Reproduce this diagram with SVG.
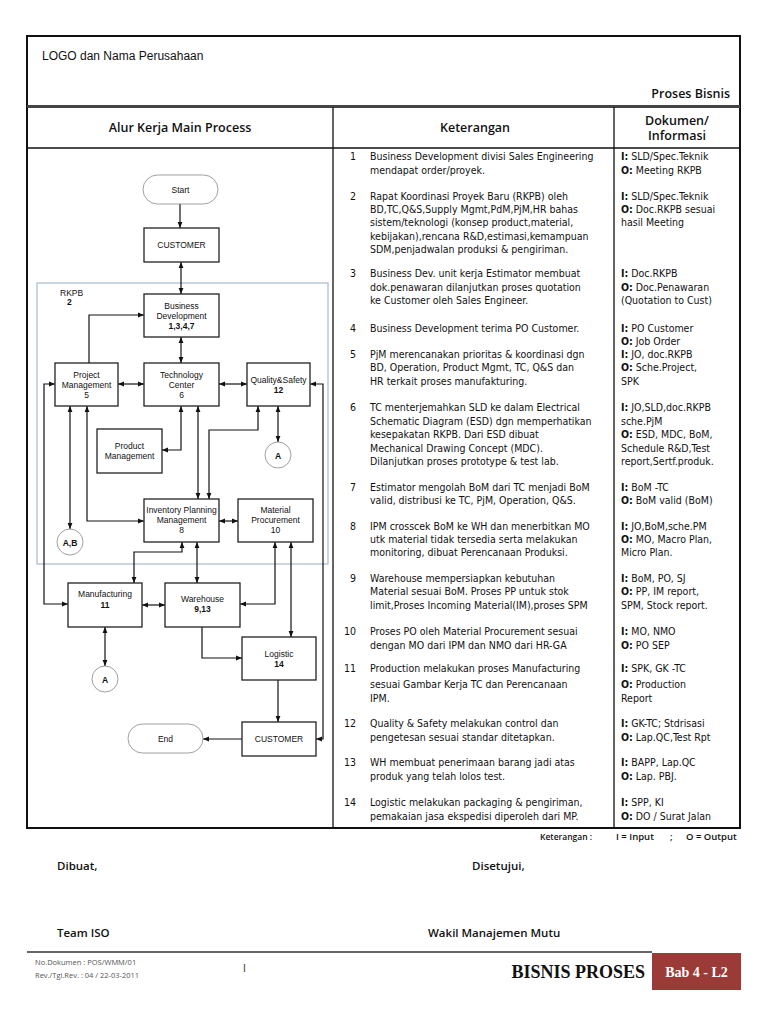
<svg xmlns="http://www.w3.org/2000/svg" width="768" height="1024" viewBox="0 0 768 1024">
<style>
.bx{fill:#fff;stroke:#222;stroke-width:1.3}
.term{fill:#fff;stroke:#888;stroke-width:0.8}
.circ{fill:#fff;stroke:#888;stroke-width:0.8}
.ft{font-family:"Liberation Sans",Arial,sans-serif;font-size:8.5px;fill:#111;text-anchor:middle}
.fb{font-weight:bold}
.cn{fill:none;stroke:#111;stroke-width:1.2}
.kt{font-family:"DejaVu Sans Condensed","DejaVu Sans",sans-serif;font-size:10.5px;fill:#111}
.kn{text-anchor:end}
.dk{font-family:"DejaVu Sans Condensed","DejaVu Sans",sans-serif;font-size:10.5px;fill:#111}
.hd{font-family:"Open Sans",sans-serif;font-weight:600;font-size:12.5px;fill:#111;text-anchor:middle}
.sg{font-family:"Open Sans",sans-serif;font-weight:600;font-size:11.5px;fill:#111}
.tbl{stroke:#111;fill:none}
</style>
<defs>
<marker id="ah" viewBox="0 0 10 10" refX="10" refY="5" markerWidth="6" markerHeight="6" markerUnits="userSpaceOnUse" orient="auto-start-reverse">
<path d="M0,1 L10,5 L0,9 z" fill="#111"/>
</marker>
</defs>
<rect width="768" height="1024" fill="#fff"/>

<!-- table frame -->
<g id="table">
<rect x="27" y="36" width="713" height="792" class="tbl" stroke-width="2"/>
<line x1="27" y1="106.5" x2="740" y2="106.5" stroke="#444" stroke-width="3"/>
<line x1="27" y1="148" x2="740" y2="148" stroke="#111" stroke-width="1.3"/>
<line x1="333" y1="107" x2="333" y2="828" stroke="#111" stroke-width="1.3"/>
<line x1="614" y1="107" x2="614" y2="828" stroke="#111" stroke-width="1.3"/>
<text x="42" y="60" font-family="Liberation Sans,Arial,sans-serif" font-size="12" fill="#111">LOGO dan Nama Perusahaan</text>
<text x="730" y="98" class="hd" style="text-anchor:end">Proses Bisnis</text>
<text x="180" y="132" class="hd">Alur Kerja Main Process</text>
<text x="475" y="132" class="hd">Keterangan</text>
<text x="677" y="125" class="hd">Dokumen/</text>
<text x="677" y="140" class="hd">Informasi</text>
</g>

<!-- RKPB boundary -->
<g id="rkpb">
<rect x="37" y="283" width="291" height="281" fill="none" stroke="#a9b9cc" stroke-width="1.2"/>
<text x="60" y="296" class="ft" style="text-anchor:start">RKPB</text>
<text x="67" y="305" class="ft fb" style="text-anchor:start">2</text>
</g>

<!-- connectors -->
<g id="connectors" class="cn">
<polyline points="180,204 180,228" marker-end="url(#ah)"/>
<polyline points="181,262 181,294" marker-start="url(#ah)" marker-end="url(#ah)"/>
<polyline points="89,363 89,315 144,315" marker-end="url(#ah)"/>
<polyline points="181,337 181,363" marker-start="url(#ah)" marker-end="url(#ah)"/>
<polyline points="118,384 144,384" marker-start="url(#ah)" marker-end="url(#ah)"/>
<polyline points="219,384 247,384" marker-start="url(#ah)" marker-end="url(#ah)"/>
<polyline points="55,384 44,384 44,604 68,604" marker-start="url(#ah)" marker-end="url(#ah)"/>
<polyline points="310,384 323,384 323,739 316,739" marker-start="url(#ah)" marker-end="url(#ah)"/>
<polyline points="70,406 70,529" marker-start="url(#ah)" marker-end="url(#ah)"/>
<polyline points="87,406 87,521 144,521" marker-start="url(#ah)" marker-end="url(#ah)"/>
<polyline points="181,406 181,450 162,450" marker-start="url(#ah)" marker-end="url(#ah)"/>
<polyline points="198,406 198,499" marker-start="url(#ah)" marker-end="url(#ah)"/>
<polyline points="258,406 258,430 209,430 209,499" marker-start="url(#ah)" marker-end="url(#ah)"/>
<polyline points="278,406 278,442" marker-start="url(#ah)" marker-end="url(#ah)"/>
<polyline points="219,521 238,521" marker-start="url(#ah)" marker-end="url(#ah)"/>
<polyline points="182,542 182,552 134,552 134,583" marker-start="url(#ah)" marker-end="url(#ah)"/>
<polyline points="197,542 197,583" marker-start="url(#ah)" marker-end="url(#ah)"/>
<polyline points="142,605 165,605" marker-start="url(#ah)" marker-end="url(#ah)"/>
<polyline points="275,542 275,604 240,604" marker-start="url(#ah)" marker-end="url(#ah)"/>
<polyline points="291,542 291,637" marker-start="url(#ah)" marker-end="url(#ah)"/>
<polyline points="202,627 202,658 242,658" marker-end="url(#ah)"/>
<polyline points="105,627 105,666" marker-start="url(#ah)" marker-end="url(#ah)"/>
<polyline points="278,680 278,722" marker-end="url(#ah)"/>
<polyline points="242,739 203,739" marker-end="url(#ah)"/>
</g>

<!-- nodes -->
<g id="start"><rect x="143" y="175" width="75" height="29" rx="14.5" class="term"/><text x="180.5" y="193" class="ft">Start</text></g>
<g id="customer1"><rect x="144" y="228" width="75" height="34" class="bx"/><text x="181.5" y="248" class="ft">CUSTOMER</text></g>
<g id="bd"><rect x="144" y="294" width="75" height="43" class="bx"/><text x="181.5" y="309" class="ft">Business</text><text x="181.5" y="319" class="ft">Development</text><text x="181.5" y="329" class="ft fb">1,3,4,7</text></g>
<g id="pm"><rect x="55" y="363" width="63" height="43" class="bx"/><text x="86.5" y="378" class="ft">Project</text><text x="86.5" y="388" class="ft">Management</text><text x="86.5" y="398" class="ft">5</text></g>
<g id="tc"><rect x="144" y="363" width="75" height="43" class="bx"/><text x="181.5" y="378" class="ft">Technology</text><text x="181.5" y="388" class="ft">Center</text><text x="181.5" y="398" class="ft">6</text></g>
<g id="qs"><rect x="247" y="363" width="63" height="43" class="bx"/><text x="278.5" y="383" class="ft">Quality&amp;Safety</text><text x="278.5" y="393" class="ft fb">12</text></g>
<g id="prodm"><rect x="97" y="429" width="65" height="44" class="bx"/><text x="129.5" y="449" class="ft">Product</text><text x="129.5" y="459" class="ft">Management</text></g>
<g id="circA1"><circle cx="278" cy="455" r="13" class="circ"/><text x="278" y="458.5" class="ft fb">A</text></g>
<g id="ipm"><rect x="144" y="499" width="75" height="43" class="bx"/><text x="181.5" y="513" class="ft">Inventory Planning</text><text x="181.5" y="523" class="ft">Management</text><text x="181.5" y="533" class="ft">8</text></g>
<g id="mp"><rect x="238" y="499" width="75" height="43" class="bx"/><text x="275.5" y="513" class="ft">Material</text><text x="275.5" y="523" class="ft">Procurement</text><text x="275.5" y="533" class="ft">10</text></g>
<g id="circAB"><circle cx="70" cy="542" r="13" class="circ"/><text x="70" y="545.5" class="ft fb">A,B</text></g>
<g id="mfg"><rect x="68" y="583" width="74" height="44" class="bx"/><text x="105" y="597" class="ft">Manufacturing</text><text x="105" y="608" class="ft fb">11</text></g>
<g id="wh"><rect x="165" y="583" width="75" height="44" class="bx"/><text x="202.5" y="602" class="ft">Warehouse</text><text x="202.5" y="612" class="ft fb">9,13</text></g>
<g id="log"><rect x="242" y="637" width="74" height="43" class="bx"/><text x="279" y="657" class="ft">Logistic</text><text x="279" y="667" class="ft fb">14</text></g>
<g id="circA2"><circle cx="105" cy="679" r="13" class="circ"/><text x="105" y="682.5" class="ft fb">A</text></g>
<g id="end"><rect x="128" y="724" width="75" height="29" rx="14.5" class="term"/><text x="165.5" y="742" class="ft">End</text></g>
<g id="customer2"><rect x="242" y="722" width="74" height="34" class="bx"/><text x="279" y="742" class="ft">CUSTOMER</text></g>

<!-- Keterangan -->
<g id="keterangan" class="kt">
<text x="356" y="160" class="kn">1</text>
<text x="370" y="160">Business Development divisi Sales Engineering</text>
<text x="370" y="174">mendapat order/proyek.</text>
<text x="356" y="200" class="kn">2</text>
<text x="370" y="200">Rapat Koordinasi Proyek Baru (RKPB) oleh</text>
<text x="370" y="213">BD,TC,Q&amp;S,Supply Mgmt,PdM,PjM,HR bahas</text>
<text x="370" y="226">sistem/teknologi (konsep product,material,</text>
<text x="370" y="240">kebijakan),rencana R&amp;D,estimasi,kemampuan</text>
<text x="370" y="253">SDM,penjadwalan produksi &amp; pengiriman.</text>
<text x="356" y="277" class="kn">3</text>
<text x="370" y="277">Business Dev. unit kerja Estimator membuat</text>
<text x="370" y="291">dok.penawaran dilanjutkan proses quotation</text>
<text x="370" y="304">ke Customer oleh Sales Engineer.</text>
<text x="356" y="332" class="kn">4</text>
<text x="370" y="332">Business Development terima PO Customer.</text>
<text x="356" y="358" class="kn">5</text>
<text x="370" y="358">PjM merencanakan prioritas &amp; koordinasi dgn</text>
<text x="370" y="371">BD, Operation, Product Mgmt, TC, Q&amp;S dan</text>
<text x="370" y="385">HR terkait proses manufakturing.</text>
<text x="356" y="411" class="kn">6</text>
<text x="370" y="411">TC menterjemahkan SLD ke dalam Electrical</text>
<text x="370" y="425">Schematic Diagram (ESD) dgn memperhatikan</text>
<text x="370" y="438">kesepakatan RKPB. Dari ESD dibuat</text>
<text x="370" y="452">Mechanical Drawing Concept (MDC).</text>
<text x="370" y="465">Dilanjutkan proses prototype &amp; test lab.</text>
<text x="356" y="491" class="kn">7</text>
<text x="370" y="491">Estimator mengolah BoM dari TC menjadi BoM</text>
<text x="370" y="504">valid, distribusi ke TC, PjM, Operation, Q&amp;S.</text>
<text x="356" y="530" class="kn">8</text>
<text x="370" y="530">IPM crosscek BoM ke WH dan menerbitkan MO</text>
<text x="370" y="543">utk material tidak tersedia serta melakukan</text>
<text x="370" y="556">monitoring, dibuat Perencanaan Produksi.</text>
<text x="356" y="582" class="kn">9</text>
<text x="370" y="582">Warehouse mempersiapkan kebutuhan</text>
<text x="370" y="595">Material sesuai BoM. Proses PP untuk stok</text>
<text x="370" y="609">limit,Proses Incoming Material(IM),proses SPM</text>
<text x="356" y="635" class="kn">10</text>
<text x="370" y="635">Proses PO oleh Material Procurement sesuai</text>
<text x="370" y="649">dengan MO dari IPM dan NMO dari HR-GA</text>
<text x="356" y="672" class="kn">11</text>
<text x="370" y="672">Production melakukan proses Manufacturing</text>
<text x="370" y="688">sesuai Gambar Kerja TC dan Perencanaan</text>
<text x="370" y="702">IPM.</text>
<text x="356" y="727" class="kn">12</text>
<text x="370" y="727">Quality &amp; Safety melakukan control dan</text>
<text x="370" y="741">pengetesan sesuai standar ditetapkan.</text>
<text x="356" y="766" class="kn">13</text>
<text x="370" y="766">WH membuat penerimaan barang jadi atas</text>
<text x="370" y="780">produk yang telah lolos test.</text>
<text x="356" y="806" class="kn">14</text>
<text x="370" y="806">Logistic melakukan packaging &amp; pengiriman,</text>
<text x="370" y="820">pemakaian jasa ekspedisi diperoleh dari MP.</text>
</g>

<!-- Dokumen -->
<g id="dokumen" class="dk">
<text x="621" y="160"><tspan font-weight="bold">I:</tspan> SLD/Spec.Teknik</text>
<text x="621" y="174"><tspan font-weight="bold">O:</tspan> Meeting RKPB</text>
<text x="621" y="200"><tspan font-weight="bold">I:</tspan> SLD/Spec.Teknik</text>
<text x="621" y="213"><tspan font-weight="bold">O:</tspan> Doc.RKPB sesuai</text>
<text x="621" y="226">hasil Meeting</text>
<text x="621" y="277"><tspan font-weight="bold">I:</tspan> Doc.RKPB</text>
<text x="621" y="291"><tspan font-weight="bold">O:</tspan> Doc.Penawaran</text>
<text x="621" y="304">(Quotation to Cust)</text>
<text x="621" y="332"><tspan font-weight="bold">I:</tspan> PO Customer</text>
<text x="621" y="345"><tspan font-weight="bold">O:</tspan> Job Order</text>
<text x="621" y="358"><tspan font-weight="bold">I:</tspan> JO, doc.RKPB</text>
<text x="621" y="371"><tspan font-weight="bold">O:</tspan> Sche.Project,</text>
<text x="621" y="385">SPK</text>
<text x="621" y="411"><tspan font-weight="bold">I:</tspan> JO,SLD,doc.RKPB</text>
<text x="621" y="425">sche.PjM</text>
<text x="621" y="438"><tspan font-weight="bold">O:</tspan> ESD, MDC, BoM,</text>
<text x="621" y="452">Schedule R&amp;D,Test</text>
<text x="621" y="465">report,Sertf.produk.</text>
<text x="621" y="491"><tspan font-weight="bold">I:</tspan> BoM -TC</text>
<text x="621" y="504"><tspan font-weight="bold">O:</tspan> BoM valid (BoM)</text>
<text x="621" y="530"><tspan font-weight="bold">I:</tspan> JO,BoM,sche.PM</text>
<text x="621" y="543"><tspan font-weight="bold">O:</tspan> MO, Macro Plan,</text>
<text x="621" y="556">Micro Plan.</text>
<text x="621" y="582"><tspan font-weight="bold">I:</tspan> BoM, PO, SJ</text>
<text x="621" y="595"><tspan font-weight="bold">O:</tspan> PP, IM report,</text>
<text x="621" y="609">SPM, Stock report.</text>
<text x="621" y="635"><tspan font-weight="bold">I:</tspan> MO, NMO</text>
<text x="621" y="649"><tspan font-weight="bold">O:</tspan> PO SEP</text>
<text x="621" y="672"><tspan font-weight="bold">I:</tspan> SPK, GK -TC</text>
<text x="621" y="688"><tspan font-weight="bold">O:</tspan> Production</text>
<text x="621" y="702">Report</text>
<text x="621" y="727"><tspan font-weight="bold">I:</tspan> GK-TC; Stdrisasi</text>
<text x="621" y="741"><tspan font-weight="bold">O:</tspan> Lap.QC,Test Rpt</text>
<text x="621" y="766"><tspan font-weight="bold">I:</tspan> BAPP, Lap.QC</text>
<text x="621" y="780"><tspan font-weight="bold">O:</tspan> Lap. PBJ.</text>
<text x="621" y="806"><tspan font-weight="bold">I:</tspan> SPP, KI</text>
<text x="621" y="820"><tspan font-weight="bold">O:</tspan> DO / Surat Jalan</text>
</g>

<!-- bottom -->
<g id="legend" font-family="Open Sans,sans-serif" font-weight="600" fill="#111">
<text x="540" y="840" font-size="8.5">Keterangan :</text>
<text x="616" y="840" font-size="9.5">I = Input</text>
<text x="670" y="840" font-size="9.5">;</text>
<text x="686" y="840" font-size="9.5">O = Output</text>
</g>
<g id="signatures" class="sg">
<text x="57" y="870">Dibuat,</text>
<text x="472" y="870">Disetujui,</text>
<text x="57" y="937">Team ISO</text>
<text x="428" y="937">Wakil Manajemen Mutu</text>
</g>
<g id="footer">
<line x1="27" y1="952" x2="652" y2="952" stroke="#666" stroke-width="2"/>
<text x="35" y="965" font-family="Open Sans,sans-serif" font-size="7.5" fill="#555">No.Dokumen : POS/WMM/01</text>
<text x="35" y="978" font-family="Open Sans,sans-serif" font-size="7.5" fill="#555">Rev./Tgl.Rev. : 04 / 22-03-2011</text>
<text x="243" y="972" font-family="Liberation Sans,sans-serif" font-size="10" fill="#333">I</text>
<text x="645" y="978" font-family="Liberation Serif,serif" font-weight="bold" font-size="18" fill="#111" text-anchor="end">BISNIS PROSES</text>
<rect x="652" y="953" width="89" height="37" fill="#9b3b38"/>
<text x="696.5" y="977" font-family="Liberation Serif,serif" font-weight="bold" font-size="14" fill="#fff" text-anchor="middle">Bab 4 - L2</text>
</g>
</svg>
